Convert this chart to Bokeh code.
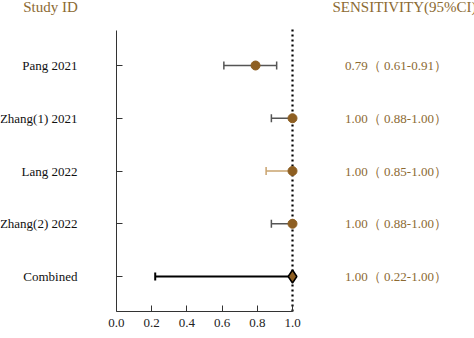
from bokeh.plotting import figure
from bokeh.models import ColumnDataSource, FixedTicker, PrintfTickFormatter, Range1d
from bokeh.core.properties import value
from bokeh.embed import file_html
from bokeh.resources import INLINE

# ---- data ----
studies = ["Pang 2021", "Zhang(1) 2021", "Lang 2022", "Zhang(2) 2022", "Combined"]
est = [0.79, 1.00, 1.00, 1.00, 1.00]
lo = [0.61, 0.88, 0.85, 0.88, 0.22]
hi = [0.91, 1.00, 1.00, 1.00, 1.00]
rows = [5, 4, 3, 2, 1]
ci_text = ["0.79（ 0.61-0.91）", "1.00（ 0.88-1.00）", "1.00（ 0.85-1.00）",
           "1.00（ 0.88-1.00）", "1.00（ 0.22-1.00）"]
x_ticks = [0.0, 0.2, 0.4, 0.6, 0.8, 1.0]
header_left = "Study ID"
header_right = "SENSITIVITY(95%CI)"

FONT = "'Liberation Serif', 'Times New Roman', serif"
BROWN_TXT = "#8c6a32"
BROWN_MK = "#8e5f22"
CI_COLORS = ["#555555", "#555555", "#c9a36e", "#555555"]

Y_BOT = 0.337   # data y of the bottom axis line
Y_TOP = 5.66    # top of the left axis line
p = figure(width=474, height=338, output_backend="svg", toolbar_location=None,
           x_range=Range1d(-0.659, 2.034), y_range=Range1d(-0.175, 6.232),
           min_border=0)
p.outline_line_color = None
p.xgrid.visible = False
p.ygrid.visible = False
p.background_fill_color = "white"
p.border_fill_color = "white"

# axes
xa = p.xaxis[0]
xa.fixed_location = Y_BOT
xa.ticker = FixedTicker(ticks=x_ticks)
xa.formatter = PrintfTickFormatter(format="%.1f")
xa.bounds = (0, 1)
xa.major_tick_in = 6
xa.major_tick_out = 0
xa.minor_tick_line_color = None
xa.major_label_standoff = 8
xa.major_label_text_font = FONT
xa.major_label_text_font_size = "13px"
xa.major_label_text_color = "#222222"
xa.axis_line_color = "#333333"
xa.major_tick_line_color = "#333333"

ya = p.yaxis[0]
ya.fixed_location = 0
ya.ticker = FixedTicker(ticks=rows)
ya.major_label_overrides = {r: s for r, s in zip(rows, studies)}
ya.bounds = (Y_BOT, Y_TOP)
ya.major_tick_in = 6
ya.major_tick_out = 0
ya.minor_tick_line_color = None
ya.major_label_standoff = 39
ya.major_label_text_font = FONT
ya.major_label_text_font_size = "13px"
ya.major_label_text_color = "#111111"
ya.axis_line_color = "#333333"
ya.major_tick_line_color = "#333333"

# reference dotted line at 1.0
p.segment(x0=[1.0], y0=[Y_BOT], x1=[1.0], y1=[5.739], line_color="black",
          line_width=2.2, line_dash="2 3")

# study CIs
n = 4
src = ColumnDataSource(dict(lo=lo[:n], hi=hi[:n], y=rows[:n], est=est[:n], c=CI_COLORS))
p.segment(x0="lo", y0="y", x1="hi", y1="y", line_color="c", line_width=1.5, source=src)
p.scatter(x="lo", y="y", marker="dash", angle=1.5708, size=8, line_color="c",
          line_width=1.5, source=src)
p.scatter(x="hi", y="y", marker="dash", angle=1.5708, size=8, line_color="c",
          line_width=1.5, source=src)
p.scatter(x="est", y="y", marker="circle", size=9, fill_color=BROWN_MK,
          line_color=BROWN_MK, source=src)

# combined
p.segment(x0=[lo[4]], y0=[rows[4]], x1=[hi[4]], y1=[rows[4]], line_color="black", line_width=2)
p.scatter(x=[lo[4]], y=[rows[4]], marker="dash", angle=1.5708, size=8,
          line_color="black", line_width=2)
p.scatter(x=[est[4]], y=[rows[4]], marker="diamond", size=13, fill_color=BROWN_MK,
          line_color="black", line_width=1.5)

# value texts
tsrc = ColumnDataSource(dict(x=[1.588] * 5, y=rows, t=ci_text))
p.text(x="x", y="y", text="t", source=tsrc, text_font=value(FONT), text_font_size="13px",
       text_color=BROWN_TXT, text_align="center", text_baseline="middle")

# headers
p.text(x=[-0.375], y=[6.1], text=[header_left], text_font=value(FONT), text_font_size="15px",
       text_color=BROWN_TXT, text_align="center", text_baseline="middle")
p.text(x=[1.227], y=[6.1], text=[header_right], text_font=value(FONT), text_font_size="15px",
       text_color=BROWN_TXT, text_align="left", text_baseline="middle")

open("out.html", "w").write(file_html(p, INLINE))
